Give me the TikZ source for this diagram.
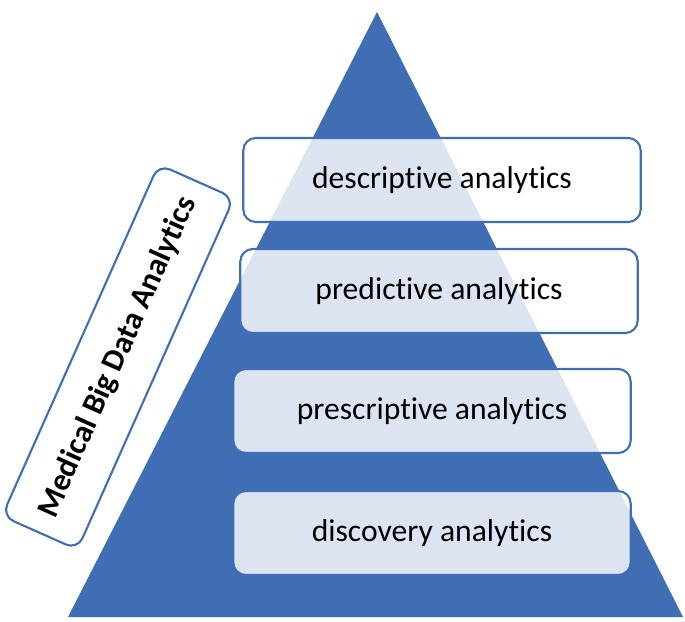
\documentclass[tikz,border=0pt]{standalone}
\usepackage{fontspec}
\setmainfont{Carlito}[Ligatures={NoCommon}]
\usetikzlibrary{positioning}
\definecolor{pyrblue}{HTML}{3F6EB5}
\begin{document}
\begin{tikzpicture}[x=0.02cm, y=-0.02cm,
		% define styles
		levelstyle/.style={
			rectangle,
			minimum width=7.95cm,
			minimum height=1.68cm,
			very thick,
			draw=pyrblue,
			fill=white, fill opacity=0.82, text opacity=1,
			rounded corners=2.5mm,
			font=\fontsize{18}{21}\selectfont
		},
		sidestyle/.style={
			rectangle,
			minimum width=7.7cm,
			minimum height=1.65cm,
			very thick,
			draw=pyrblue,
			fill=white,
			rounded corners=2.5mm,
			rotate=66,
			font=\bfseries\fontsize{18}{21}\selectfont
		}]
		% end of style definition
		\useasboundingbox (0,0) rectangle (685,621);

		% pyramid
		\fill [pyrblue] (377,12) -- (683,617) -- (68,617) -- cycle;

		% draw nodes
		\node (iDescriptive) [levelstyle] at (442,180) {descriptive analytics};
		\node (iPredictive) [levelstyle] at (439,291) {predictive analytics};
		\node (iPrescriptive) [levelstyle] at (432,411) {prescriptive analytics};
		\node (iDiscovery) [levelstyle] at (432,533) {discovery analytics};

		\node (iMedical) [sidestyle] at (118,357) {Medical Big Data Analytics};
	\end{tikzpicture}
\end{document}
